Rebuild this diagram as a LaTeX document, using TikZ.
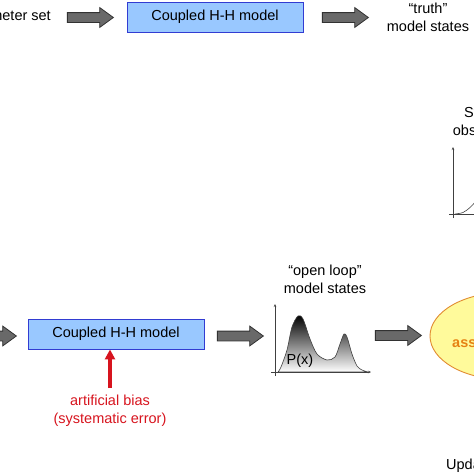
\documentclass[tikz,border=0pt]{standalone}
\usepackage{fontspec}
\setmainfont{Liberation Sans}
\usetikzlibrary{shapes.arrows,shapes.geometric,arrows.meta}
\definecolor{boxblue}{RGB}{153,200,255}
\definecolor{boxedge}{RGB}{50,60,210}
\definecolor{arrowgray}{RGB}{105,105,105}
\definecolor{arrowedge}{RGB}{50,50,50}
\definecolor{biasred}{RGB}{215,20,30}
\definecolor{assimfill}{RGB}{255,250,155}
\definecolor{assimedge}{RGB}{225,140,50}
\definecolor{assimtext}{RGB}{230,130,20}
\begin{document}
\begin{tikzpicture}[x=1pt,y=-1pt,
    txt/.style={font=\fontsize{14.5pt}{18pt}\selectfont, inner sep=1pt, align=center},
    hhbox/.style={txt, draw=boxedge, fill=boxblue, line width=0.9pt,
      minimum width=176pt, minimum height=30pt},
    blockarrow/.style={single arrow, draw=arrowedge, fill=arrowgray, line width=0.8pt,
      minimum height=46pt, inner sep=4.5pt, single arrow head extend=5pt,
      single arrow tip angle=72},
    axis/.style={draw=darkgray, line width=0.6pt, -{Stealth[length=3pt,width=2.5pt]}}]
    \useasboundingbox (0,0) rectangle (474,474);
    \clip (0,0) rectangle (474,474);
    % truth run
    \node[txt, anchor=east] (param) at (52,17) {parameter set};
    \node[blockarrow] (a1) at (87,17.5) {};
    \node[hhbox] (truemodel) at (215,17) {Coupled H-H model};
    \node[blockarrow] (a2) at (342,17.5) {};
    \node[txt] (truth) at (428,17) {“truth”\\model states};
    % synthetic observations
    \node[txt] (synth) at (494,121) {Synthetic\\observations};
    \draw[axis] (453,218) -- (453,147);
    \draw[draw=darkgray, line width=0.6pt] (449,214) -- (480,214);
    \draw[draw=darkgray, line width=0.6pt] plot[smooth] coordinates {(455,214) (463,212.5) (470,207.5) (478,199)};
    % open loop run
    \node[blockarrow] (a3) at (-10,336) {};
    \node[hhbox] (openmodel) at (116,334) {Coupled H-H model};
    \node[txt, text=biasred] (bias) at (110,411) {artificial bias\\(systematic error)};
    \coordinate (biasfoot) at (110,388);
    \draw[biasred, line width=3.2pt, -{Triangle[width=10pt,length=10pt]}]
      (biasfoot) -- (biasfoot |- openmodel.south);
    \node[blockarrow] (a4) at (237,336) {};
    \node[txt] (openloop) at (325,279) {“open loop”\\model states};
    \shade[top color=black, bottom color=white, draw=darkgray, line width=0.6pt]
      plot[smooth] coordinates {(278,372) (281,367) (287,350) (292,327) (298,316) (303,319)
        (310,339) (317,354) (327,360) (335,357) (340,344) (344,334) (347,337) (352,354)
        (357,366) (362,370) (368,372)} -- cycle;
    \draw[axis] (275,376) -- (275,304);
    \draw[axis] (271,372) -- (371,372);
    \node[txt] (px) at (300,361) {P(x)};
    \node[blockarrow] (a5) at (395,335.5) {};
    \node[ellipse, draw=assimedge, fill=assimfill, line width=0.9pt,
      minimum width=150pt, minimum height=87pt] (assim) at (505,336) {};
    \node[txt, anchor=west, text=assimtext, font=\fontsize{14.5pt}{18pt}\selectfont\bfseries]
      (assimlbl) at (451,342) {assimilation};
    \node[txt, anchor=west] (update) at (445,466) {Updated};
\end{tikzpicture}
\end{document}
